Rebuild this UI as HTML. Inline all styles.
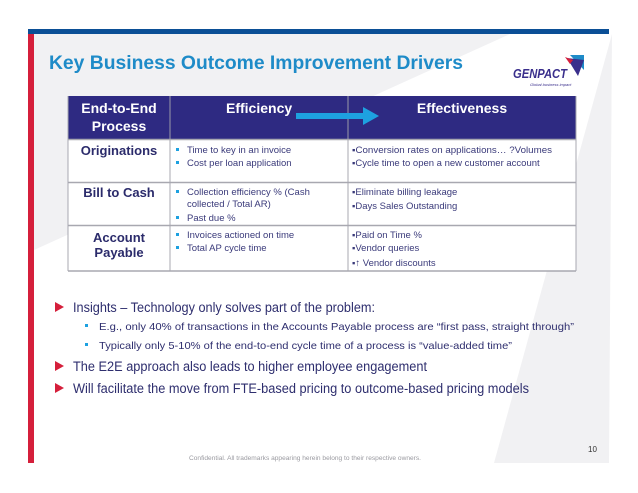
<!DOCTYPE html>
<html><head><meta charset="utf-8"><style>
html,body{margin:0;padding:0;background:#fff;}
svg{display:block;font-family:"Liberation Sans",Arial,sans-serif;}
</style></head><body>
<svg width="638" height="493" viewBox="0 0 638 493">
  <rect x="28" y="30" width="581" height="433" fill="#ffffff"/>
  <polygon points="34,34 510,34 34,250" fill="#f1f1f3"/>
  <polygon points="612,34 609,463 494,463" fill="#f1f1f3"/>
  <rect x="28" y="29" width="581" height="5" fill="#0b4f96"/>
  <rect x="28" y="34" width="6" height="429" fill="#d51f3b"/>

  <text x="49" y="69" font-size="19.5" font-weight="bold" fill="#1e8bc8" textLength="414" lengthAdjust="spacingAndGlyphs">Key Business Outcome Improvement Drivers</text>

  <g>
    <polygon points="570,55 584,55 584,70" fill="#1e8bc8"/>
    <polygon points="567,58 584,60 578,76" fill="#3a2f8c"/>
    <polygon points="565,57 573,60 570,64" fill="#d51f3b"/>
    <text x="513" y="78" font-size="13" font-weight="bold" font-style="italic" fill="#3a2f8c" textLength="54" lengthAdjust="spacingAndGlyphs">GENPACT</text>
    <text x="530" y="86" font-size="4" font-style="italic" fill="#3a2f8c">Global business impact</text>
  </g>

  <g>
    <rect x="68" y="96" width="508" height="43" fill="#2e2a82"/>
    <line x1="170" y1="96" x2="170" y2="271" stroke="#9a9aa8" stroke-width="1"/>
    <line x1="348" y1="96" x2="348" y2="271" stroke="#9a9aa8" stroke-width="1"/>
    <rect x="68" y="139" width="508" height="132" fill="#ffffff"/>
    <line x1="170" y1="139" x2="170" y2="271" stroke="#a8a8b0"/>
    <line x1="348" y1="139" x2="348" y2="271" stroke="#a8a8b0"/>
    <line x1="68" y1="139.5" x2="576" y2="139.5" stroke="#a8a8b0" stroke-width="1.5"/>
    <line x1="68" y1="182.5" x2="576" y2="182.5" stroke="#a8a8b0" stroke-width="1.5"/>
    <line x1="68" y1="225.5" x2="576" y2="225.5" stroke="#a8a8b0" stroke-width="1.5"/>
    <line x1="68" y1="271" x2="576" y2="271" stroke="#a8a8b0" stroke-width="1.5"/>
    <line x1="68" y1="96" x2="68" y2="271" stroke="#a8a8b0"/>
    <line x1="576" y1="96" x2="576" y2="271" stroke="#a8a8b0"/>

    <g font-size="14" font-weight="bold" fill="#ffffff">
      <text x="119" y="113" text-anchor="middle">End-to-End</text>
      <text x="119" y="131" text-anchor="middle">Process</text>
      <text x="226" y="113">Efficiency</text>
      <text x="462" y="113" text-anchor="middle">Effectiveness</text>
    </g>
    <g>
      <rect x="296" y="113" width="68" height="6" fill="#1da1e0"/>
      <polygon points="363,107 379,116 363,125" fill="#1da1e0"/>
    </g>

    <g font-size="13" font-weight="bold" fill="#2b2b6b" text-anchor="middle">
      <text x="119" y="155">Originations</text>
      <text x="119" y="197">Bill to Cash</text>
      <text x="119" y="242">Account</text>
      <text x="119" y="257">Payable</text>
    </g>

    <g font-size="9.5" fill="#3a3a7a">
      <g fill="#1da1e0">
        <rect x="176" y="148" width="3" height="3"/><rect x="176" y="161" width="3" height="3"/>
        <rect x="176" y="190" width="3" height="3"/><rect x="176" y="216" width="3" height="3"/>
        <rect x="176" y="233" width="3" height="3"/><rect x="176" y="246" width="3" height="3"/>
      </g>
      <text x="187" y="153">Time to key in an invoice</text>
      <text x="187" y="166">Cost per loan application</text>
      <text x="187" y="195">Collection efficiency % (Cash</text>
      <text x="187" y="207">collected / Total AR)</text>
      <text x="187" y="221">Past due %</text>
      <text x="187" y="238">Invoices actioned on time</text>
      <text x="187" y="251">Total AP cycle time</text>

      <text x="352" y="153" textLength="200" lengthAdjust="spacingAndGlyphs">▪Conversion rates on applications… ?Volumes</text>
      <text x="352" y="166">▪Cycle time to open a new customer account</text>
      <text x="352" y="195">▪Eliminate billing leakage</text>
      <text x="352" y="209">▪Days Sales Outstanding</text>
      <text x="352" y="238">▪Paid on Time %</text>
      <text x="352" y="251">▪Vendor queries</text>
      <text x="352" y="266">▪↑ Vendor discounts</text>
    </g>
  </g>

  <g fill="#2e2e6e">
    <polygon points="55,302 64,307 55,312" fill="#d51f3b"/>
    <text x="73" y="312" font-size="13.5" textLength="302" lengthAdjust="spacingAndGlyphs">Insights – Technology only solves part of the problem:</text>
    <rect x="85" y="324" width="3" height="3" fill="#1da1e0"/>
    <text x="99" y="330" font-size="10.5" textLength="475" lengthAdjust="spacingAndGlyphs">E.g., only 40% of transactions in the Accounts Payable process are “first pass, straight through”</text>
    <rect x="85" y="343" width="3" height="3" fill="#1da1e0"/>
    <text x="99" y="349" font-size="10.5" textLength="413" lengthAdjust="spacingAndGlyphs">Typically only 5-10% of the end-to-end cycle time of a process is “value-added time”</text>
    <polygon points="55,361 64,366 55,371" fill="#d51f3b"/>
    <text x="73" y="371" font-size="13.5" textLength="354" lengthAdjust="spacingAndGlyphs">The E2E approach also leads to higher employee engagement</text>
    <polygon points="55,383 64,388 55,393" fill="#d51f3b"/>
    <text x="73" y="393" font-size="13.5" textLength="456" lengthAdjust="spacingAndGlyphs">Will facilitate the move from FTE-based pricing to outcome-based pricing models</text>
  </g>

  <text x="189" y="460" font-size="6.5" fill="#9a9aa0" textLength="232" lengthAdjust="spacingAndGlyphs">Confidential.  All trademarks appearing herein belong to their respective owners.</text>
  <text x="588" y="452" font-size="8" fill="#333">10</text>
</svg>
</body></html>
